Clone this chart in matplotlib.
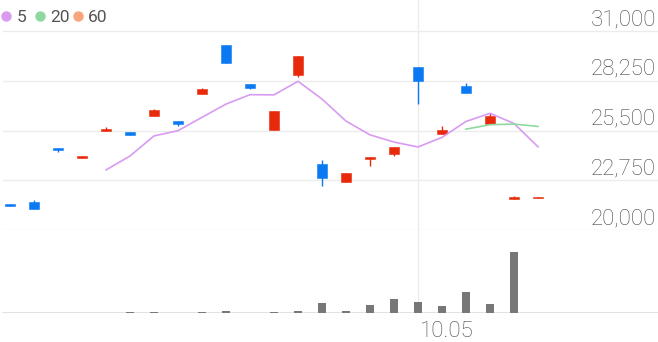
import numpy as np
import matplotlib.pyplot as plt

W, H = 658, 342

# daily candles, oldest first
opens = [21450, 21550, 24550, 24000, 25450, 25400, 26300, 26050, 27500, 30200,
         28050, 25550, 28550, 23650, 22650, 23950, 24200, 29000, 25300, 27950,
         25850, 21700, 21750]
closes = [21350, 21150, 24400, 24100, 25600, 25250, 26650, 25850, 27800, 29250,
          27850, 26600, 29600, 22900, 23150, 24050, 24600, 28250, 25550, 27550,
          26300, 21800, 21800]
highs = [21450, 21650, 24550, 24100, 25700, 25400, 26700, 26050, 27850, 30200,
         28050, 26600, 29600, 23850, 23150, 24050, 24600, 29000, 25750, 28100,
         26450, 21900, 21800]
lows = [21300, 21150, 24300, 24000, 25450, 25250, 26300, 25750, 27500, 29250,
        27800, 25550, 28450, 22450, 22650, 23550, 24100, 26950, 25300, 27550,
        25850, 21700, 21750]
volumes = [0, 1500, 1500, 0, 1500, 3000, 3000, 0, 2000, 7000,
           0, 4000, 7000, 31500, 5500, 23500, 43500, 34500, 22500, 62000,
           26500, 183000, 0]

ma5 = [np.nan] * 4 + [23320, 24090, 25200, 25490, 26230, 26960, 27480, 27470,
                      28220, 27240, 26020, 25260, 24860, 24590, 25120, 26000,
                      26450, 25890, 24600]
ma20 = [np.nan] * 19 + [25575, 25820, 25855, 25725]

price_ticks = [20000, 22750, 25500, 28250, 31000]
date_ticks = [17]
date_labels = ["10.05"]

UP = "#e8290b"
DOWN = "#0b7af2"
GRID = "#ececec"
TEXT = "#484848"
FONT = "Roboto"

fig = plt.figure(figsize=(W / 100, H / 100), dpi=100)

# price panel: pixel rows 0..230, 20,000 sits at row 230, 31,000 at row 31
px_per_val = (230 - 31) / (31000 - 20000)
ax = fig.add_axes([0, (H - 230) / H, 1, 230 / H])
ax.set_ylim(20000, 31000 + 31 / px_per_val)
xs = np.arange(len(opens))
ax.set_xlim(-10 / 24, (W - 10) / 24)
ax.axis("off")

for lvl in price_ticks:
    ax.axhline(lvl, xmin=3 / W, xmax=1, color=GRID, lw=1.0, zorder=0)
    ax.annotate(f"{lvl:,}", xy=(1, lvl), xycoords=("axes fraction", "data"),
                xytext=(-2, 6), textcoords="offset pixels", ha="right",
                va="baseline", fontsize=16, color=TEXT, family=FONT,
                weight="light")

for t in date_ticks:
    ax.axvline(t, color=GRID, lw=1.0, zorder=0)

for i in xs:
    o, c = opens[i], closes[i]
    col = UP if c >= o else DOWN
    ax.vlines(i, lows[i], highs[i], color=col, lw=1.0, zorder=2)
    ax.bar(i, max(abs(c - o), 30), bottom=min(o, c), width=0.42, color=col,
           edgecolor=col, lw=0.4, zorder=3)

ax.plot(xs, ma5, color="#d89bf0", lw=1.2, zorder=4)
ax.plot(xs, ma20, color="#8fd9a0", lw=1.2, zorder=4)

# volume panel: pixel rows 230..313
vax = fig.add_axes([0, (H - 313) / H, 1, 83 / H])
vax.set_xlim(ax.get_xlim())
vax.set_ylim(0, max(volumes) * 83 / 61)
vax.axis("off")
vax.bar(xs, volumes, width=0.36, color="#777777", zorder=2)
vax.axhline(0, xmin=3 / W, xmax=1, color="#e2e2e2", lw=1.5, zorder=1)
for t, lab in zip(date_ticks, date_labels):
    vax.axvline(t, color=GRID, lw=1.0, zorder=0)
    fig.text((10 + 24 * t + 2) / W, (H - 337) / H, lab, ha="left",
             va="baseline", fontsize=16, color=TEXT, family=FONT,
             weight="light")

# legend
legend = [("5", "#d89bf0", 6, 17), ("20", "#8fd9a0", 40, 50),
          ("60", "#f8a57e", 78, 88)]
for lab, col, cx, tx in legend:
    fig.add_artist(plt.Line2D([cx / W], [(H - 16) / H], marker="o",
                              markersize=6.5, color=col, lw=0,
                              transform=fig.transFigure))
    fig.text(tx / W, (H - 22.5) / H, lab, ha="left", va="baseline",
             fontsize=12.5, color="#555555", family=FONT)

fig.savefig("out.png", dpi=100)
